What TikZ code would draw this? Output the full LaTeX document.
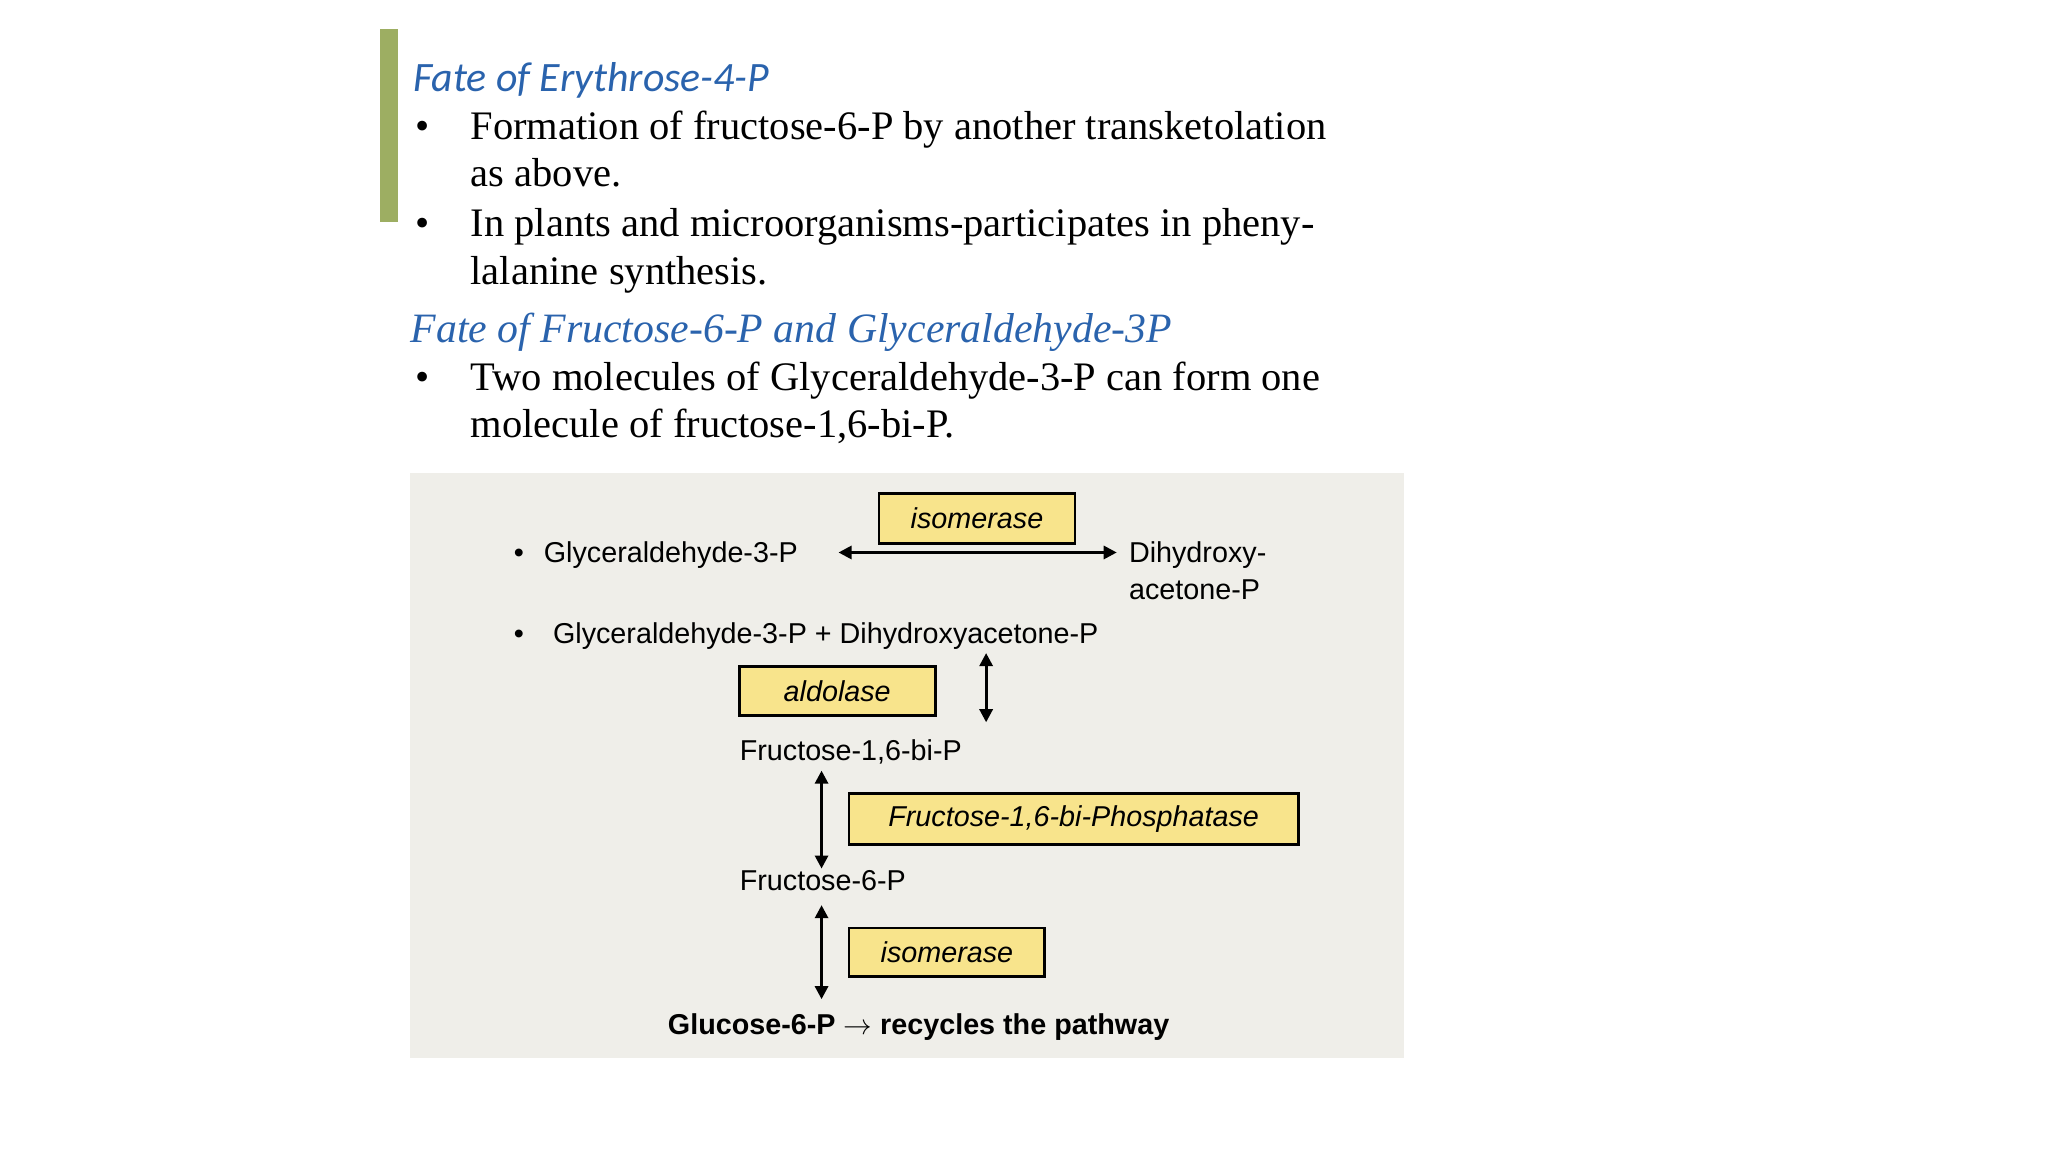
\documentclass[tikz,border=0pt]{standalone}
\usepackage{fontspec}
\setmainfont{Liberation Serif}
\setsansfont{Liberation Sans}
\newfontfamily\cali{Carlito}
\usetikzlibrary{arrows.meta}
\definecolor{hblue}{HTML}{2A63AD}
\definecolor{bar}{HTML}{9DAE62}
\definecolor{panel}{HTML}{EFEEE9}
\definecolor{enz}{HTML}{F8E48C}
\tikzset{
 txt/.style={anchor=base west,inner sep=0pt,font=\fontsize{15.5}{18}\selectfont},
 dtxt/.style={anchor=base west,inner sep=0pt,font=\sffamily\fontsize{11}{13}\selectfont},
 enzbox/.style={draw=black,line width=1.1pt,fill=enz,inner sep=0pt,font=\sffamily\itshape\fontsize{11}{13}\selectfont},
 dbl/.style={{Triangle[length=5pt,width=5pt]}-{Triangle[length=5pt,width=5pt]},line width=1.1pt}
}
\begin{document}
\begin{tikzpicture}[x=0.5pt,y=-0.5pt]
\useasboundingbox (0,0) rectangle (1568,882);
\fill[white] (0,0) rectangle (1568,882);
\fill[bar] (291,22) rectangle (305,170);
\node[anchor=base west,inner sep=0pt,text=hblue,font=\cali\itshape\fontsize{16}{18}\selectfont] (h1) at (316,70) {Fate of Erythrose-4-P};
\node[txt] (b1) at (318,107) {•};
\node[txt] (l1) at (360,107) {Formation of fructose-6-P by another transketolation};
\node[txt] (l2) at (360,143) {as above.};
\node[txt] (b2) at (318,181) {•};
\node[txt] (l3) at (360,181) {In plants and microorganisms-participates in pheny-};
\node[txt] (l4) at (360,218) {lalanine synthesis.};
\node[anchor=base west,inner sep=0pt,text=hblue,font=\itshape\fontsize{16}{18}\selectfont] (h2) at (314,262) {Fate of Fructose-6-P and Glyceraldehyde-3P};
\node[txt] (b3) at (318,299) {•};
\node[txt] (l5) at (360,299) {Two molecules of Glyceraldehyde-3-P can form one};
\node[txt] (l6) at (360,335) {molecule of fructose-1,6-bi-P.};
\fill[panel] (314,362) rectangle (1075,810);
\node[enzbox,minimum width=75pt,minimum height=19pt] (e1) at (748,397) {isomerase};
\node[dtxt] (db1) at (393,431) {•};
\node[dtxt] (g1) at (416,431) {Glyceraldehyde-3-P};
\node[dtxt] (d1) at (864,431) {Dihydroxy-};
\node[dtxt] (d2) at (864,459) {acetone-P};
\coordinate (a1l) at (642,423);
\coordinate (a1r) at (855,423);
\draw[dbl] (a1l) -- (a1r);
\node[dtxt] (db2) at (393,493) {•};
\node[dtxt] (g2) at (423,493) {Glyceraldehyde-3-P + Dihydroxyacetone-P};
\node[enzbox,minimum width=75pt,minimum height=18.5pt] (e2) at (641,529) {aldolase};
\coordinate (a2t) at (755,500);
\coordinate (a2b) at (755,553);
\draw[dbl] (a2t) -- (a2b);
\node[dtxt] (f16) at (566,582) {Fructose-1,6-bi-P};
\coordinate (a3t) at (629,590);
\coordinate (a3b) at (629,665);
\draw[dbl] (a3t) -- (a3b);
\node[enzbox,minimum width=172pt,minimum height=19.5pt] (e3) at (822,627) {Fructose-1,6-bi-Phosphatase};
\node[dtxt] (f6) at (566,682) {Fructose-6-P};
\coordinate (a4t) at (629,693);
\coordinate (a4b) at (629,765);
\draw[dbl] (a4t) -- (a4b);
\node[enzbox,minimum width=75pt,minimum height=18.5pt] (e4) at (725,729) {isomerase};
\node[dtxt,font=\sffamily\bfseries\fontsize{11}{13}\selectfont] (gl) at (511,792) {Glucose-6-P $\rightarrow$ recycles the pathway};
\end{tikzpicture}
\end{document}
